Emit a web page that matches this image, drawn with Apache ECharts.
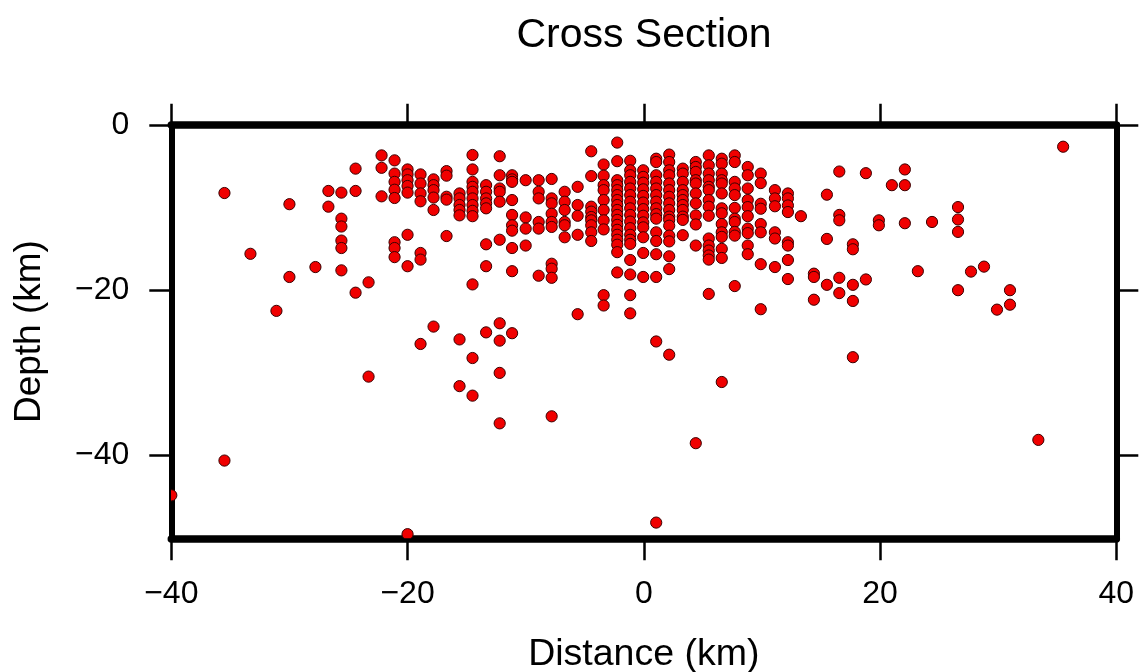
<!DOCTYPE html>
<html>
<head>
<meta charset="utf-8">
<script src="https://cdn.jsdelivr.net/npm/echarts@6/dist/echarts.min.js"></script>
<style>
  html, body { margin: 0; padding: 0; background: #fff; }
  #main { width: 1139px; height: 672px; }
</style>
</head>
<body>
<div id="main"></div>
<script>
var xTicks = [-40, -20, 0, 20, 40];
var yTicks = [0, -20, -40];

// 每列一个距离，depths 是该列读到的深度 (km)
var distances = [
  -40, -35.5, -33.3, -31.1, -30, -27.8, -26.7, -25.6, -24.4, -23.3, -22.2, -21.1,
  -20, -18.9, -17.8, -16.7, -15.6, -14.5, -13.35, -12.2, -11.15, -10, -8.9, -7.8,
  -6.7, -5.6, -4.45, -3.4, -2.25, -1.15, -0.05, 1.05, 2.15, 3.3, 4.4, 5.5,
  6.6, 7.7, 8.8, 9.9, 11.1, 12.2, 13.3, 14.4, 15.5, 16.55, 17.7, 18.8,
  19.9, 21, 22.1, 23.2, 24.4, 26.6, 27.7, 28.8, 29.9, 31, 33.4, 35.5
];
var depths = [
  [44.8],
  [8.25, 40.6],
  [15.6],
  [22.5],
  [9.6, 18.4],
  [17.2],
  [8, 9.9],
  [8.2, 11.35, 12.3, 14, 14.9, 17.6],
  [5.3, 8, 20.3],
  [19.05, 30.45],
  [3.7, 5.2, 8.65],
  [4.3, 5.9, 6.9, 7.85, 8.85, 14.2, 14.9, 16],
  [5.4, 6, 6.7, 7.4, 8.2, 13.3, 17.1, 49.5],
  [6, 7.1, 8.3, 9.25, 15.5, 16.3, 26.5],
  [6.6, 7.3, 7.9, 8.8, 10.3, 24.4],
  [5.6, 6.15, 8.7, 9.05, 13.45],
  [8.3, 8.9, 9.7, 10.3, 10.95, 25.95, 31.6],
  [3.65, 5.4, 6.9, 7.5, 8.1, 8.9, 9.7, 10.4, 11.05, 19.3, 28.2, 32.75],
  [7.3, 8.1, 8.9, 9.5, 10.1, 14.45, 17.1, 25.1],
  [3.8, 6.1, 7.7, 8.1, 9.3, 13.9, 24, 26.1, 30, 36.1],
  [6.1, 6.6, 6.9, 9.1, 10.9, 12.15, 12.8, 14.9, 17.7, 25.2],
  [6.7, 11.2, 12.55, 14.6],
  [6.7, 8.1, 8.9, 11.75, 12.55, 18.25],
  [6.55, 8.9, 9.5, 10.75, 11.75, 12.35, 16.8, 17.4, 18.5, 35.25],
  [8.1, 9.3, 10.3, 11.75, 12.15, 13.6],
  [7.5, 9.7, 11, 13.3, 22.9],
  [3.2, 6.2, 9.9, 10.5, 11.15, 11.55, 12.15, 13, 14.05],
  [4.8, 6.15, 7.3, 7.9, 9.1, 10.3, 11.55, 12.65, 20.6, 21.85],
  [2.15, 4.4, 6.7, 7.3, 7.9, 8.5, 9.1, 9.7, 10.3, 10.9, 11.5, 12.1, 12.7, 13.3, 13.9, 14.5, 15.4, 17.85],
  [4.35, 5.5, 6.1, 6.9, 7.7, 8.5, 9.3, 10.1, 10.9, 11.7, 12.5, 13.3, 13.9, 14.4, 16.35, 18.1, 20.6, 22.8],
  [5.5, 6.3, 7, 7.8, 8.6, 9.4, 10.2, 11, 11.8, 12.4, 13.6, 15.5, 18.4],
  [4.1, 4.5, 6.1, 6.9, 7.7, 8.5, 9.3, 10.1, 10.8, 11.35, 13, 14.05, 15.65, 18.4, 26.2, 48.1],
  [3.6, 4.5, 5.5, 6.1, 7.1, 7.9, 8.7, 9.5, 10.3, 11.1, 11.5, 12.2, 13.4, 14.1, 15.9, 17.45, 27.8],
  [5.3, 5.9, 6.9, 7.9, 8.5, 9.1, 9.7, 10.3, 11.1, 11.5, 13.35],
  [4.5, 5.1, 5.7, 6.7, 7.1, 8.3, 9.5, 10.95, 12.05, 14.6, 38.5],
  [3.7, 4.9, 5.9, 6.7, 7.5, 7.9, 9.1, 9.9, 11, 13.75, 14.6, 15.2, 15.8, 16.3, 20.45],
  [4.1, 4.7, 5.9, 6.7, 7.1, 8.3, 10.1, 10.7, 12, 13, 13.55, 15, 16.1, 31.1],
  [3.7, 4.5, 6.9, 7.7, 8.5, 10.05, 11.35, 11.75, 12.95, 13.4, 19.5],
  [5.1, 6.1, 7.7, 9.1, 9.95, 11.05, 12.55, 13.1, 14.6, 15.65],
  [5.9, 7.05, 9.55, 10.15, 12, 13, 16.85, 22.3],
  [7.9, 8.9, 9.85, 13, 13.75, 17.2],
  [8.3, 8.9, 9.75, 10.55, 14.2, 14.6, 16.35, 18.65],
  [11.05],
  [18, 18.4, 21.15],
  [8.45, 13.8, 19.35],
  [5.65, 10.9, 11.55, 18.5, 20.35],
  [14.45, 15.05, 19.35, 21.3, 28.1],
  [5.85, 18.7],
  [11.55, 12.15],
  [7.3],
  [5.4, 7.3, 11.9],
  [17.7],
  [11.75],
  [9.95, 11.45, 12.95, 20],
  [17.75],
  [17.15],
  [22.35],
  [20, 21.75],
  [38.1],
  [2.65]
];

var points = [];
distances.forEach(function (d, i) {
  depths[i].forEach(function (v) {
    points.push([d, -v]);
  });
});

function minusLabel(value) {
  return String(value).replace('-', '\u2212');
}

var fontName = '"Liberation Sans"';

var chart = echarts.init(document.getElementById('main'));
var option = {
  animation: false,
  backgroundColor: '#fff',
  title: {
    text: 'Cross Section',
    left: 639,
    top: 10,
    textAlign: 'center',
    textStyle: { fontFamily: fontName, fontSize: 41, fontWeight: 'normal', color: '#000' }
  },
  grid: { left: 171.3, right: 22.7, top: 124.8, bottom: 133.7, outerBoundsMode: 'none' },
  xAxis: [
    {
      type: 'value',
      position: 'bottom',
      min: -40,
      max: 40,
      interval: 20,
      name: 'Distance (km)',
      nameLocation: 'middle',
      nameGap: 97,
      nameTextStyle: { fontFamily: fontName, fontSize: 37.5, color: '#000' },
      axisLine: { show: true, onZero: false, lineStyle: { color: '#000', width: 7.5 } },
      axisTick: { show: true, length: 22, lineStyle: { color: '#000', width: 2.5 }, customValues: xTicks },
      axisLabel: { margin: 40, fontFamily: fontName, fontSize: 32, color: '#000', customValues: xTicks, formatter: minusLabel },
      splitLine: { show: false }
    },
    {
      type: 'value',
      position: 'top',
      min: -40,
      max: 40,
      interval: 20,
      axisLine: { show: true, onZero: false, lineStyle: { color: '#000', width: 7.5 } },
      axisTick: { show: true, length: 21, lineStyle: { color: '#000', width: 2.5 }, customValues: xTicks },
      axisLabel: { show: false },
      splitLine: { show: false }
    }
  ],
  yAxis: [
    {
      type: 'value',
      position: 'left',
      min: -50,
      max: 0,
      name: 'Depth (km)',
      nameLocation: 'middle',
      nameGap: 123,
      nameRotate: 90,
      nameTextStyle: { fontFamily: fontName, fontSize: 37, color: '#000' },
      axisLine: { show: true, onZero: false, lineStyle: { color: '#000', width: 6 } },
      axisTick: { show: true, length: 22, lineStyle: { color: '#000', width: 2.5 }, customValues: yTicks },
      axisLabel: { margin: 42, padding: [2, 0, 0, 0], fontFamily: fontName, fontSize: 32, color: '#000', customValues: yTicks, formatter: minusLabel },
      splitLine: { show: false }
    },
    {
      type: 'value',
      position: 'right',
      min: -50,
      max: 0,
      axisLine: { show: true, onZero: false, lineStyle: { color: '#000', width: 6 } },
      axisTick: { show: true, length: 22, lineStyle: { color: '#000', width: 2.5 }, customValues: yTicks },
      axisLabel: { show: false },
      splitLine: { show: false }
    }
  ],
  series: [
    {
      // custom 才会真正按绘图区裁剪，-40 处的点只露出右半边
      type: 'custom',
      xAxisIndex: 0,
      yAxisIndex: 0,
      clip: true,
      encode: { x: 0, y: 1 },
      renderItem: function (params, api) {
        var c = api.coord([api.value(0), api.value(1)]);
        return {
          type: 'circle',
          shape: { cx: c[0], cy: c[1], r: 5.6 },
          style: { fill: '#f00000', stroke: '#3a0000', lineWidth: 1 }
        };
      },
      data: points
    }
  ]
};
chart.setOption(option);
</script>
</body>
</html>
